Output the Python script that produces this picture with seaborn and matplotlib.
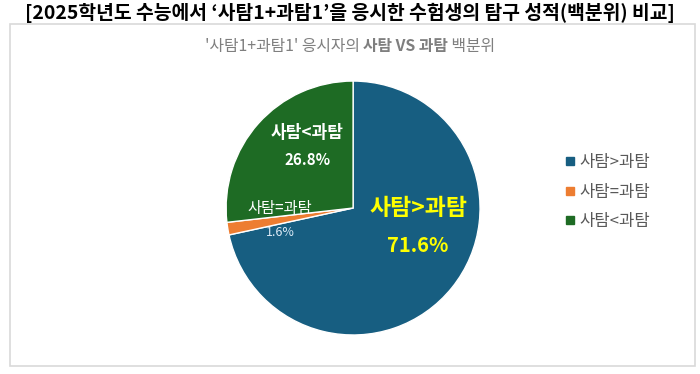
import matplotlib
matplotlib.use("Agg")
import matplotlib.pyplot as plt
import seaborn as sns
from matplotlib.patches import Rectangle
from matplotlib.offsetbox import TextArea, HPacker, AnchoredOffsetbox
from matplotlib.lines import Line2D

sns.set_theme(style="white")
plt.rcParams['font.family'] = ['Noto Sans CJK KR', 'DejaVu Sans']

categories = ["사탐>과탐", "사탐=과탐", "사탐<과탐"]
values = [71.6, 1.6, 26.8]
colors = ["#175E81", "#ED7D31", "#1E6B24"]
title = "[2025학년도 수능에서 ‘사탐1+과탐1’을 응시한 수험생의 탐구 성적(백분위) 비교]"

fig = plt.figure(figsize=(7.0, 3.74), dpi=100)

# outer frame
fig.patches.append(Rectangle((10/700, 1-366/374), 685/700, 342/374, transform=fig.transFigure,
                             fill=False, edgecolor="#D9D9D9", linewidth=1.2))

fig.text(0.5, 1-13/374, title, ha="center", va="center", fontsize=13.9, fontweight="bold", color="black")

# subtitle with mixed weight
parts = [("'사탐1+과탐1' 응시자의 ", "normal"), ("사탐 VS 과탐", "bold"), (" 백분위", "normal")]
tas = [TextArea(t, textprops=dict(fontsize=11.4, color="#7F7F7F", fontweight=w)) for t, w in parts]
box = HPacker(children=tas, align="baseline", pad=0, sep=0)
anch = AnchoredOffsetbox(loc="center", child=box, frameon=False,
                         bbox_to_anchor=(0.5, 1-47/374), bbox_transform=fig.transFigure, borderpad=0, pad=0)
fig.add_artist(anch)

ax = fig.add_axes([0.3229, 0.1043, 0.363, 0.679])
wedges, _ = ax.pie(values, colors=colors, startangle=90, counterclock=False,
                   wedgeprops=dict(edgecolor="white", linewidth=1))
ax.set_aspect("equal")
ax.set_xlim(-1, 1)
ax.set_ylim(-1, 1)
ax.axis("off")

def p(px, py):
    return ((px-353)/127, (208-py)/127)

x, y = p(418, 208)
ax.text(x, y, categories[0], ha="center", va="center", fontsize=16.5, fontweight="bold", color="#FFFF00")
x, y = p(418, 245)
ax.text(x, y, f"{values[0]}%", ha="center", va="center", fontsize=14.5, fontweight="bold", color="#FFFF00")
x, y = p(307, 133)
ax.text(x, y, categories[2], ha="center", va="center", fontsize=12.3, fontweight="bold", color="white")
x, y = p(307, 160)
ax.text(x, y, f"{values[2]}%", ha="center", va="center", fontsize=10.8, fontweight="bold", color="white")
x, y = p(280, 208)
ax.text(x, y, categories[1], ha="center", va="center", fontsize=11, color="white")
x, y = p(280, 232)
ax.text(x, y, f"{values[1]}%", ha="center", va="center", fontsize=9, color="#DDEBF7")

handles = [Line2D([], [], marker="s", linestyle="none", markersize=6, markerfacecolor=c, markeredgecolor=c)
           for c in colors]
leg = fig.legend(handles, categories, loc="center left", bbox_to_anchor=(548/700, 1-192/374),
                 frameon=False, fontsize=12, handletextpad=0.2, labelspacing=0.75, handlelength=0.8)
for t in leg.get_texts():
    t.set_color("#595959")

fig.savefig("out.png", dpi=100)
